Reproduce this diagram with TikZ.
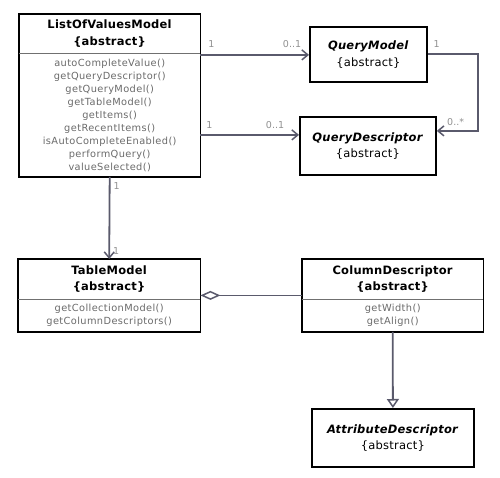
\documentclass[tikz,border=0pt]{standalone}
\usepackage{fontspec}
\setmainfont{DejaVu Sans}
\newfontfamily\methfont[LetterSpace=4]{DejaVu Sans}
\newfontfamily\headfont[LetterSpace=2]{DejaVu Sans}
\usetikzlibrary{arrows.meta, calc, positioning}
\definecolor{linegray}{HTML}{5A5A6C}
\definecolor{methgray}{HTML}{6A6A6A}
\definecolor{multgray}{HTML}{909090}
\definecolor{sepgray}{HTML}{707070}
\tikzset{
  headbox/.style={anchor=north west, inner sep=0pt, align=center,
    font=\headfont\fontsize{11.5}{16.5}\selectfont},
  methbox/.style={anchor=north west, inner sep=0pt, align=center, text=methgray,
    font=\methfont\fontsize{9.8}{13}\selectfont},
  frame/.style={draw=black, line width=1.8pt},
  sepline/.style={draw=sepgray, line width=0.9pt},
  assoc/.style={draw=linegray, line width=1.8pt,
    -{Straight Barb[length=6pt,width=10pt,line width=1.5pt]}},
  aggr/.style={draw=linegray, line width=1.8pt,
    -{Diamond[open,length=20pt,width=9pt,line width=1.5pt]}},
  gener/.style={draw=linegray, line width=1.8pt,
    -{Triangle[open,length=9pt,width=12pt,line width=1.5pt,fill=white]}},
  mult/.style={text=multgray, inner sep=2pt, font=\fontsize{9.5}{11}\selectfont}
}
\newcommand\DrawFrame[2]{%
\draw[frame] (#1.north west) rectangle (#2.south east);
\draw[sepline] (#1.south west) -- (#1.south east);
}

\begin{document}
\begin{tikzpicture}[x=1pt,y=-1pt]
  \useasboundingbox (0,0) rectangle (500,478);

  % classes with methods
  \node[headbox, minimum width=181pt, minimum height=39pt] (lov) at (19,14)
    {\textbf{ListOfValuesModel}\\\textbf{\{abstract\}}};
  \node[methbox, minimum width=181pt, minimum height=123pt] (lovm) at (lov.south west)
    {autoCompleteValue()\\getQueryDescriptor()\\getQueryModel()\\getTableModel()\\getItems()\\getRecentItems()\\isAutoCompleteEnabled()\\performQuery()\\valueSelected()};
  \DrawFrame{lov}{lovm}

  \node[headbox, minimum width=182pt, minimum height=40pt] (tm) at (18,259)
    {\textbf{TableModel}\\\textbf{\{abstract\}}};
  \node[methbox, minimum width=182pt, minimum height=32pt] (tmm) at (tm.south west)
    {getCollectionModel()\\getColumnDescriptors()};
  \DrawFrame{tm}{tmm}

  \node[headbox, minimum width=181pt, minimum height=40pt] (cd) at (302,259)
    {\textbf{ColumnDescriptor}\\\textbf{\{abstract\}}};
  \node[methbox, minimum width=181pt, minimum height=32pt] (cdm) at (cd.south west)
    {getWidth()\\getAlign()};
  \DrawFrame{cd}{cdm}

  % abstract classes without methods
  \node[headbox, frame, minimum width=117pt, minimum height=55pt] (qm) at (309,26)
    {\textbf{\textit{QueryModel}}\\\{abstract\}};
  \node[headbox, frame, minimum width=136pt, minimum height=58pt] (qd) at (299,116)
    {\textbf{\textit{QueryDescriptor}}\\\{abstract\}};
  \node[headbox, frame, minimum width=162pt, minimum height=58pt] (ad) at (311,408)
    {\textbf{\textit{AttributeDescriptor}}\\\{abstract\}};

  % connectors
  \coordinate (qmin) at ([yshift=-0.5pt]qm.west);
  \coordinate (qdin) at ([yshift=11pt]qd.west);
  \coordinate (qdback) at ([yshift=15pt]qd.east);
  \coordinate (tmagg) at ([yshift=4pt]tmm.north east);

  \draw[assoc] (lov.east |- qmin) -- node[mult, at start, above right, xshift=5pt, yshift=4pt] {1}
    node[mult, at end, above left, xshift=-5pt, yshift=4pt] {0..1} (qmin);
  \draw[assoc] (lovm.east |- qdin) -- node[mult, at start, above right, xshift=3pt, yshift=3pt] {1}
    node[mult, at end, above left, xshift=-12pt, yshift=3pt] {0..1} (qdin);
  \draw[assoc] (qm.east) -- node[mult, at start, above right, xshift=3pt, yshift=4pt] {1} ++(50,0)
    |- node[mult, pos=0.62, above left, xshift=-1pt, yshift=2pt] {0..*} (qdback);
  \draw[assoc] (lovm.south) -- node[mult, at start, below right, xshift=1pt, yshift=-3pt] {1}
    node[mult, at end, above right, xshift=1pt, yshift=2pt] {1} (tm.north);
  \draw[aggr] (cd.west |- tmagg) -- (tmagg);
  \draw[gener] (cdm.south) -- (ad.north);
\end{tikzpicture}
\end{document}
